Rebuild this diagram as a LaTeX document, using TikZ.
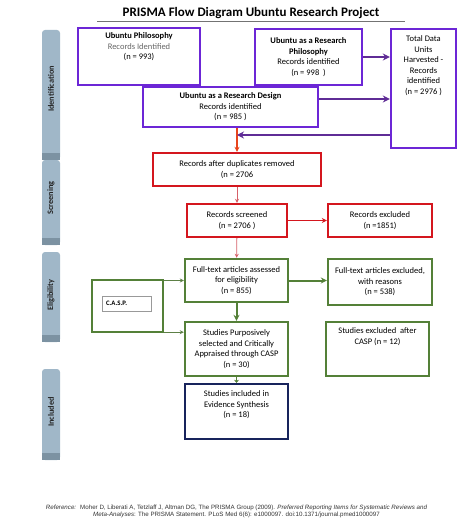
\documentclass[tikz,border=0pt]{standalone}
\usepackage{fontspec}
\setmainfont{Carlito}
\newfontfamily\reffont{Liberation Sans}
\usepackage{xcolor}
\usetikzlibrary{arrows.meta}
\definecolor{purp}{RGB}{108,38,214}
\definecolor{darkpurp}{RGB}{95,44,150}
\definecolor{boxred}{RGB}{212,22,30}
\definecolor{boxgreen}{RGB}{84,128,56}
\definecolor{navy}{RGB}{24,36,92}
\definecolor{barblue}{RGB}{160,183,200}
\definecolor{bardark}{RGB}{124,146,162}

\begin{document}
\begin{tikzpicture}[x=1pt,y=-1pt,
		box/.style={draw,line width=2.4pt,fill=white,align=center,inner sep=0pt,font=\fontsize{8.5}{10.5}\selectfont},
		txt/.style={align=center,inner sep=0pt,font=\fontsize{8.5}{10.5}\selectfont},
		barlabel/.style={rotate=90,font=\fontsize{8.3}{9}\selectfont\bfseries,text=black!85},
		parr/.style={draw=darkpurp,line width=2.6pt,-{Stealth[length=7pt,width=7pt]}},
		thinarr/.style={line width=0.8pt,-{Stealth[length=4pt,width=4pt]}}]
	\useasboundingbox (0,0) rectangle (474,524);
	% title
	\node[font=\fontsize{13}{15}\selectfont\bfseries] (title) at (251,13) {PRISMA Flow Diagram Ubuntu Research Project};
	\draw[black!55,line width=0.6pt] (97,21.5) -- (405,21.5);
	% side bars
	\fill[barblue,rounded corners=3pt] (42,160) -- (42,30) -- (60,30) -- (60,160) -- cycle;
	\fill[bardark] (42,153) rectangle (60,160);
	\fill[barblue,rounded corners=3pt] (42,245) -- (42,160) -- (60,160) -- (60,245) -- cycle;
	\fill[bardark] (42,238) rectangle (60,245);
	\fill[barblue,rounded corners=3pt] (42,342) -- (42,252) -- (60,252) -- (60,342) -- cycle;
	\fill[bardark] (42,335) rectangle (60,342);
	\fill[barblue,rounded corners=3pt] (42,460) -- (42,369) -- (60,369) -- (60,460) -- cycle;
	\fill[bardark] (42,453) rectangle (60,460);
	\node[barlabel] (ident) at (51,89) {Identification};
	\node[barlabel] (screen) at (51,198) {Screening};
	\node[barlabel] (elig) at (51,295) {Eligibility};
	\node[barlabel] (incd) at (51,412) {Included};
	% identification
	\node[box,draw=purp,minimum width=122pt,minimum height=57pt,
		label={[txt,anchor=north,yshift=-6pt]north:{\textbf{Ubuntu Philosophy}\\\textcolor{black!60}{Records Identified}\\(n = 993)}}] (phil) at (139,56.5) {};
	\node[box,draw=purp,minimum width=107pt,minimum height=56pt] (rphil) at (308.5,57) {\textbf{Ubuntu as a Research}\\\textbf{Philosophy}\\Records identified\\(n = 998~~)};
	\node[box,draw=purp,minimum width=65pt,minimum height=119pt,
		label={[txt,anchor=north,yshift=-8pt]north:{Total Data\\Units\\Harvested -\\Records\\identified\\(n = 2976 )}}] (total) at (423.5,88.5) {};
	\node[box,draw=purp,minimum width=175pt,minimum height=40pt] (design) at (230.5,107) {\textbf{Ubuntu as a Research Design}\\Records identified\\(n = 985 )};
	\draw[parr] (rphil.east) -- (rphil.east -| total.west);
	\draw[parr] ([yshift=8pt]design.east) -- ([yshift=8pt]design.east -| total.west);
	% screening
	\node[box,draw=boxred,minimum width=168pt,minimum height=33pt] (dup) at (237,169.5) {Records after duplicates removed\\(n = 2706};
	\coordinate (join) at (237,135);
	\draw[draw={rgb,255:red,232;green,68;blue,28},line width=1.4pt,-{Stealth[length=5pt,width=5pt]}] (design.south -| dup.north) -- (dup.north);
	\draw[parr] (total.west |- join) -- (join);
	\node[box,draw=boxred,minimum width=100pt,minimum height=33pt] (screened) at (237,220.5) {Records screened\\(n = 2706 )};
	\node[box,draw=boxred,minimum width=104pt,minimum height=33pt] (excl) at (380,220.5) {Records excluded\\(n =1851)};
	\draw[thinarr,draw={rgb,255:red,214;green,96;blue,104}] (dup) -- (screened);
	\draw[draw=boxred,line width=1.3pt,-{Stealth[length=5pt,width=5pt]}] (screened) -- (excl);
	% eligibility
	\node[box,draw=boxgreen,minimum width=103pt,minimum height=43pt] (ftass) at (236.5,280.5) {Full-text articles assessed\\for eligibility\\(n = 855)};
	\node[box,draw=boxgreen,minimum width=104pt,minimum height=46pt] (ftexcl) at (380,282) {Full-text articles excluded,\\with reasons\\(n = 538)};
	\draw[thinarr,draw={rgb,255:red,214;green,96;blue,104}] (screened) -- (ftass);
	\node[box,draw=boxgreen,minimum width=71pt,minimum height=52pt] (casp) at (127.5,306) {};
	\node[draw=black!40,line width=0.8pt,minimum width=49pt,minimum height=15pt,text width=41pt,align=left,font=\fontsize{6.8}{8}\selectfont\bfseries] (caspin) at (126.5,303.5) {C.A.S.P.};
	\node[box,draw=boxgreen,minimum width=103pt,minimum height=54pt] (studies) at (236.5,349) {Studies Purposively\\selected and Critically\\Appraised through CASP\\(n = 30)};
	\node[box,draw=boxgreen,minimum width=103pt,minimum height=54pt,
		label={[txt,anchor=north,yshift=-7pt]north:{Studies excluded~ after\\CASP (n = 12)}}] (stexcl) at (377.5,349) {};
	\draw[draw=boxgreen,line width=2pt,-{Stealth[length=6pt,width=6pt]}] (ftass.east) -- (ftass.east -| ftexcl.west);
	\draw[draw=boxgreen,line width=2pt,-{Stealth[length=6pt,width=6pt]}] (ftass) -- (studies);
	\draw[thinarr,draw=boxgreen!80!gray] (casp.east |- ftass.west) -- (ftass.west);
	\draw[thinarr,draw=boxgreen!80!gray] ([yshift=1pt]casp.south east) -- ([yshift=1pt]casp.south east -| studies.west);
	% included
	\node[box,draw=navy,minimum width=103pt,minimum height=55pt,
		label={[txt,anchor=north,yshift=-8pt]north:{Studies included in\\Evidence Synthesis\\(n = 18)}}] (incl) at (236.5,411.5) {};
	\draw[draw=boxgreen,line width=1pt,-{Stealth[length=3pt,width=5pt]}] (studies) -- (incl);
	% reference
	\node[align=center,font=\reffont\fontsize{6.2}{7.6}\selectfont,text=black!80] (ref) at (236.5,511.5) {\textit{Reference:}~ Moher D, Liberati A, Tetzlaff J, Altman DG, The PRISMA Group (2009). \textit{Preferred Reporting Items for Systematic Reviews and}\\\textit{Meta-Analyses}: The PRISMA Statement. PLoS Med 6(6): e1000097. doi:10.1371/journal.pmed1000097};
\end{tikzpicture}
\end{document}
